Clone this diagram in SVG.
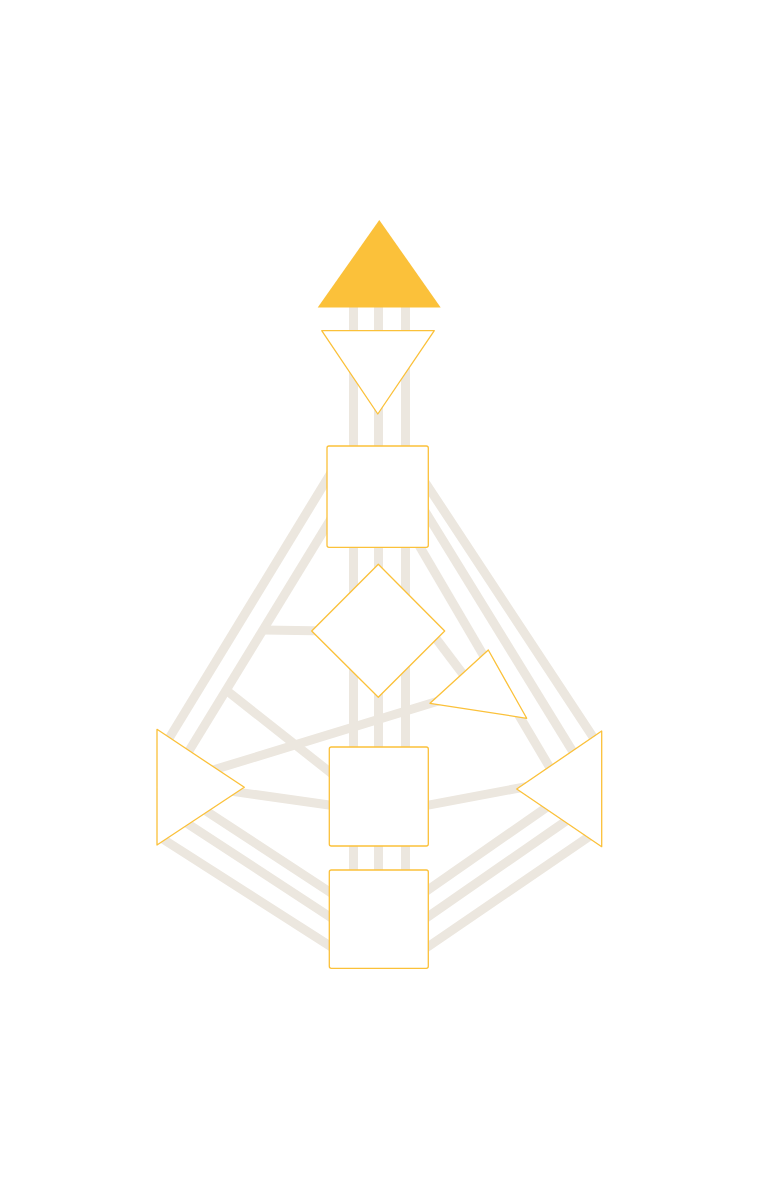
<svg xmlns="http://www.w3.org/2000/svg" width="760" height="1194" viewBox="0 0 760 1194">
<style>
.ch{fill:none;stroke:#ECE7DF;stroke-width:9;stroke-linecap:butt}
.c{fill:#FFFFFF;stroke:#FBC13A;stroke-width:1.3;stroke-linejoin:round}
.d{fill:#FBC13A;stroke:none}
</style>
<rect x="0" y="0" width="760" height="1194" fill="#FFFFFF"/>
<g id="channels">
<path class="ch" d="M353.5 300V880M378.5 300V880M405.5 300V880"/>
<path class="ch" d="M340 458L165 745"/>
<path class="ch" d="M340 504L180 765.5"/>
<path class="ch" d="M263 630L330 631"/>
<path class="ch" d="M226 690L350 788"/>
<path class="ch" d="M220 789.6L345 807.3"/>
<path class="ch" d="M200 774L445 699"/>
<path class="ch" d="M200 807L345 902"/>
<path class="ch" d="M180 818.7L345 926.8"/>
<path class="ch" d="M162 838.5L345 955.6"/>
<path class="ch" d="M415 467L595 740"/>
<path class="ch" d="M415 495L578 760"/>
<path class="ch" d="M410 530L485 658"/>
<path class="ch" d="M485 658L556 778"/>
<path class="ch" d="M425 624L478 694"/>
<path class="ch" d="M415 807.6L530 786"/>
<path class="ch" d="M415 899L550 805"/>
<path class="ch" d="M415 925.7L575 814.7"/>
<path class="ch" d="M415 955.6L595 832.5"/>
</g>
<g id="head"><polygon class="d" points="379.3,220 440.7,307.5 317.7,307.5"/></g>
<g id="ajna"><polygon class="c" points="321.7,330.7 434.3,330.7 377.8,414"/></g>
<g id="throat"><rect class="c" x="327" y="446" width="101.3" height="101.3" rx="2"/></g>
<g id="g-center"><polygon class="c" points="378.3,564.3 444.7,631 378.3,697.3 311.7,631"/></g>
<g id="ego"><polygon class="c" points="488.3,650 526.7,718.3 430,703.3"/></g>
<g id="spleen"><polygon class="c" points="157,729.3 244.3,787.3 157,845"/></g>
<g id="solar-plexus"><polygon class="c" points="601.7,731 601.7,846.7 516.7,789"/></g>
<g id="sacral"><rect class="c" x="329.3" y="747" width="99" height="99" rx="2"/></g>
<g id="root"><rect class="c" x="329.3" y="870" width="99" height="98.3" rx="2"/></g>
</svg>
